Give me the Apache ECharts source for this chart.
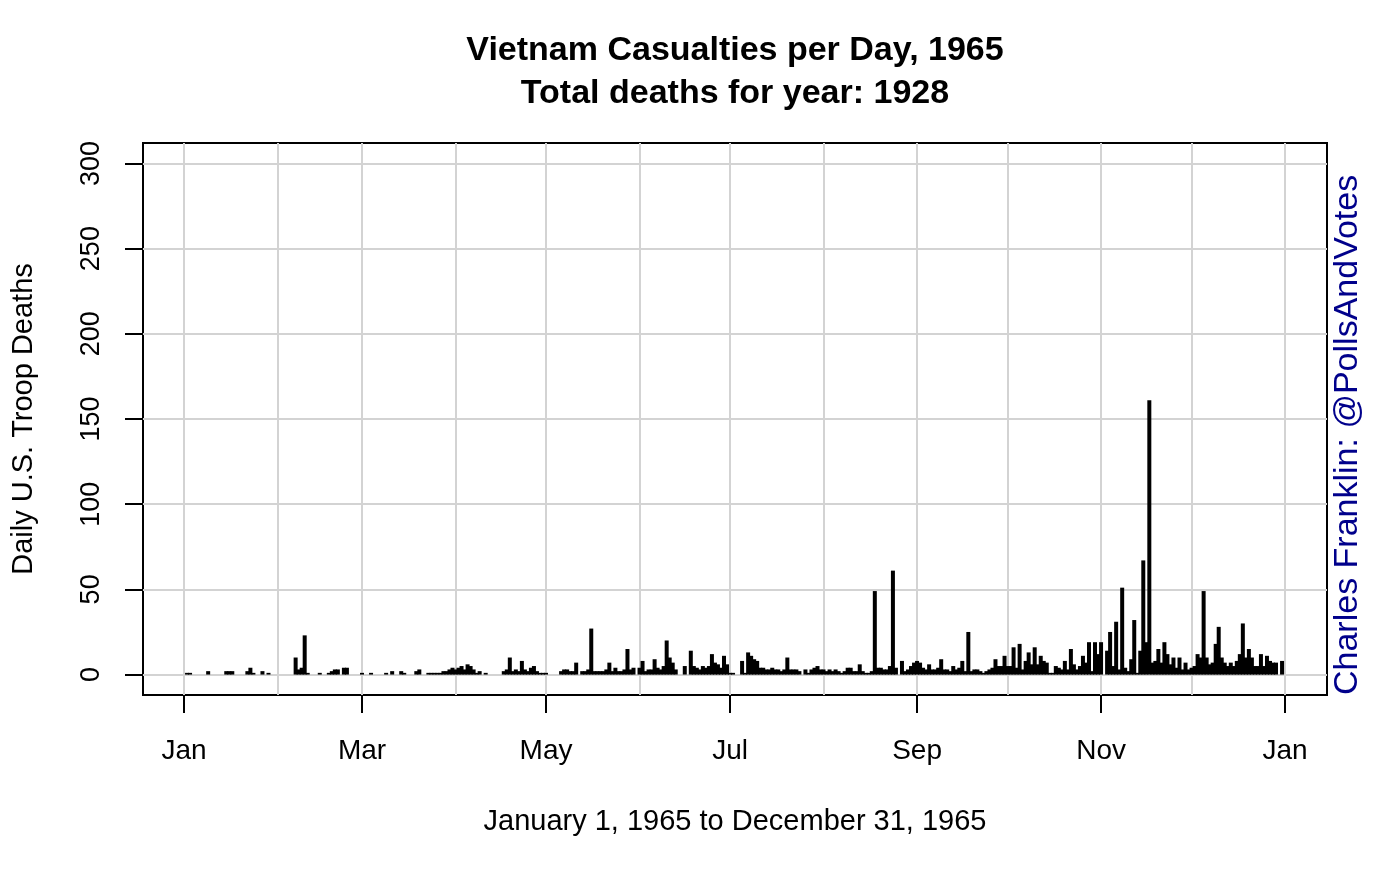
<!DOCTYPE html>
<html>
<head>
<meta charset="utf-8">
<script src="https://cdn.jsdelivr.net/npm/echarts@6/dist/echarts.min.js"></script>
<style>
  html, body { margin: 0; padding: 0; background: #fff; }
  #chart { width: 1400px; height: 875px; }
</style>
</head>
<body>
<div id="chart"></div>
<script>
// day index 0 = Jan 1, 1965
var monthStarts = [0, 31, 59, 90, 120, 151, 181, 212, 243, 273, 304, 334, 365];
var labelDays = [0, 59, 120, 181, 243, 304, 365];
var labelNames = ['Jan', 'Mar', 'May', 'Jul', 'Sep', 'Nov', 'Jan'];
var yTicks = [0, 50, 100, 150, 200, 250, 300];

// daily deaths by month (null = no record that day)
var jan = [null, 1, 1, null, null, null, null, null, 2, null, null, null, null, null, 2, 2, 2, null, null, null, null, 2, 4, 1, null, null, 2, null, 1, null, null];
var feb = [null, null, null, null, null, null, 10, 3, 4, 23, 1, null, null, null, 1, null, null, 1, 2, 3, 3, null, 4, 4, null, null, null, null];
var mar = [1, null, null, 1, null, null, null, null, 1, null, 2, null, null, 2, 1, null, null, null, 2, 3, null, null, 1, 1, 1, 1, 1, 2, 2, 3, 4];
var apr = [3, 4, 5, 3, 6, 5, 3, 1, 2, null, 1, null, null, null, null, null, 2, 3, 10, 2, 3, 2, 8, 3, 2, 4, 5, 2, 1, 1];
var may = [1, null, null, null, null, 2, 3, 3, 2, 2, 7, null, 2, 2, 3, 27, 2, 2, 2, 2, 3, 7, 2, 4, 2, 2, 3, 15, 3, 4, null];
var jun = [4, 8, 2, 3, 3, 9, 4, 3, 5, 20, 10, 7, 3, null, null, 5, null, 14, 5, 4, 3, 5, 4, 5, 12, 7, 6, 4, 11, 6];
var jul = [1, 1, null, null, 8, 1, 13, 11, 9, 8, 4, 4, 3, 3, 4, 3, 3, 2, 3, 10, 3, 3, 3, 2, null, 3, 1, 3, 4, 5, 3];
var aug = [3, 2, 3, 2, 3, 2, 1, 2, 4, 4, 2, 2, 6, 2, 1, 1, 2, 49, 4, 4, 3, 3, 5, 61, 4, null, 8, 2, 3, 5, 7];
var sep = [8, 7, 4, 3, 6, 3, 3, 4, 9, 3, 3, 2, 5, 3, 4, 8, 2, 25, 2, 3, 3, 2, 1, 2, 3, 4, 9, 5, 5, 11];
var oct = [5, 5, 16, 4, 18, 3, 8, 13, 6, 16, 6, 11, 8, 7, 1, 1, 5, 4, 3, 8, 3, 15, 6, 3, 5, 11, 7, 19, 2, 19, 12];
var nov = [19, null, 14, 25, 5, 31, 3, 51, 4, 2, 9, 32, 1, 14, 67, 19, 161, 7, 8, 15, 7, 19, 12, 6, 10, 4, 10, 3, 7, 3];
var dec = [4, 5, 12, 10, 49, 10, 6, 7, 18, 28, 10, 7, 5, 7, 5, 8, 12, 30, 10, 15, 10, 5, 5, 12, 5, 11, 8, 7, 7, null, 8];

var deaths = [].concat(jan, feb, mar, apr, may, jun, jul, aug, sep, oct, nov, dec);

var font = '"Liberation Sans", Helvetica, Arial, sans-serif';
var grey = '#d3d3d3';

var chart = echarts.init(document.getElementById('chart'), null, { renderer: 'canvas' });
chart.setOption({
  animation: false,
  backgroundColor: '#fff',
  grid: { left: 143, top: 143, right: 73, bottom: 180, show: true, borderColor: '#000', borderWidth: 2, backgroundColor: 'transparent' },
  xAxis: [
    {
      type: 'value', min: -13.6, max: 378.9, position: 'bottom',
      axisLine: { show: false, onZero: false },
      axisTick: { show: true, customValues: labelDays, length: 18, lineStyle: { color: '#000', width: 2 } },
      axisLabel: {
        customValues: labelDays, color: '#000', fontSize: 28, fontFamily: font, margin: 42,
        formatter: function(v) { return labelNames[labelDays.indexOf(v)]; }
      },
      splitLine: { show: false },
      name: 'January 1, 1965 to December 31, 1965',
      nameLocation: 'middle', nameGap: 112,
      nameTextStyle: { color: '#000', fontSize: 29, fontFamily: font }
    },
    {
      type: 'value', min: -13.6, max: 378.9, position: 'top',
      axisLine: { show: false, onZero: false },
      axisTick: { show: false, customValues: monthStarts },
      axisLabel: { show: false },
      splitLine: { show: true, lineStyle: { color: grey, width: 2 } }
    }
  ],
  yAxis: {
    type: 'value', min: -12, max: 312,
    axisLine: { show: false, onZero: false },
    axisTick: { show: true, customValues: yTicks, length: 18, lineStyle: { color: '#000', width: 2 } },
    axisLabel: { customValues: yTicks, rotate: 90, color: '#000', fontSize: 27, fontFamily: font, margin: 38 },
    splitLine: { show: true, lineStyle: { color: grey, width: 2 } },
    name: 'Daily U.S. Troop Deaths',
    nameLocation: 'middle', nameGap: 105,
    nameTextStyle: { color: '#000', fontSize: 29, fontFamily: font }
  },
  graphic: [
    { type: 'text', x: 735, y: 51, style: { text: 'Vietnam Casualties per Day, 1965', fill: '#000', font: 'bold 34px ' + font, textAlign: 'center', textVerticalAlign: 'middle' } },
    { type: 'text', x: 735, y: 94, style: { text: 'Total deaths for year: 1928', fill: '#000', font: 'bold 34px ' + font, textAlign: 'center', textVerticalAlign: 'middle' } },
    { type: 'text', x: 1348, y: 695, rotation: Math.PI / 2, style: { text: 'Charles Franklin: @PollsAndVotes', fill: '#00008b', font: '34px ' + font, textAlign: 'left', textVerticalAlign: 'middle' } }
  ],
  series: [{
    type: 'bar',
    xAxisIndex: 0,
    barWidth: 4,
    itemStyle: { color: '#000' },
    data: deaths.map(function(v, i) { return [i, v]; })
  }]
});
</script>
</body>
</html>
